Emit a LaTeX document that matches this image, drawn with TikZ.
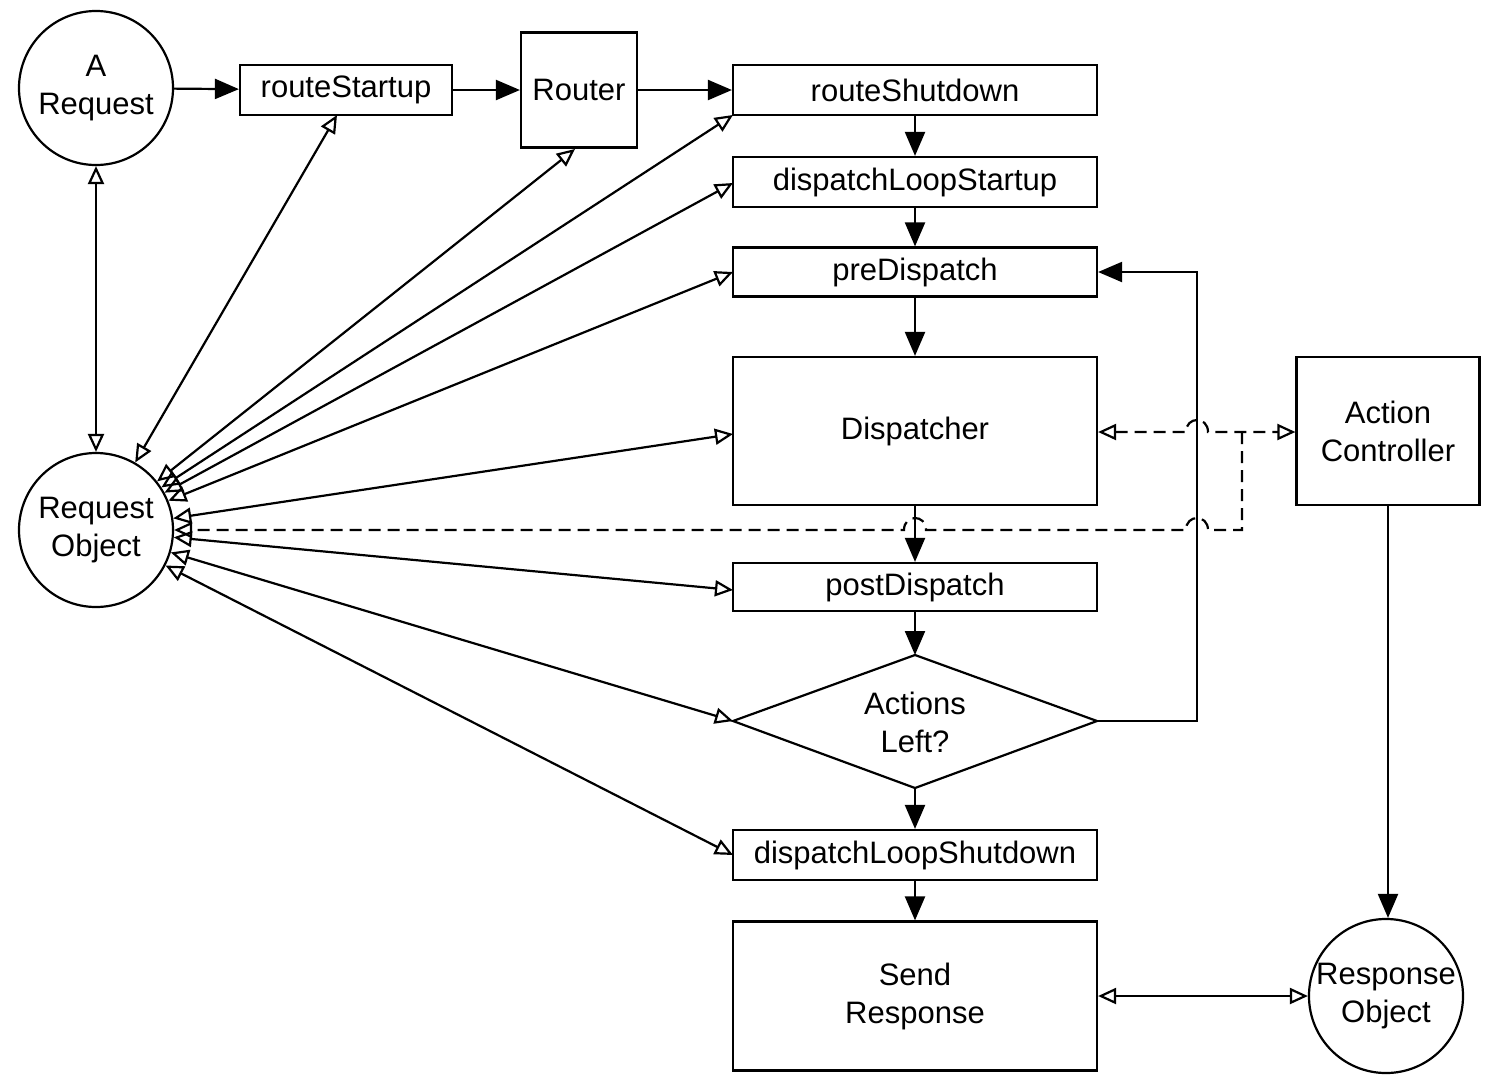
\documentclass[tikz,border=0pt]{standalone}
\usepackage{fontspec}
\setmainfont{Liberation Sans}
\usetikzlibrary{arrows.meta}
\begin{document}
\begin{tikzpicture}[x=1pt,y=-1pt,line width=2.2pt,
  every node/.style={font=\fontsize{31}{38}\selectfont},
  box/.style={draw,rectangle,inner sep=0pt,align=center},
  circ/.style={draw,circle,minimum size=154pt,inner sep=0pt,align=center},
  fa/.style={-{Triangle[length=24pt,width=20pt]}},
  oa/.style={{Triangle[open,length=18pt,width=16pt]}-{Triangle[open,length=18pt,width=16pt]}},
  oe/.style={-{Triangle[open,length=18pt,width=16pt]}},
  dsh/.style={dash pattern=on 12pt off 7pt}]
\fill[white] (0,0) rectangle (1494,1085);
\useasboundingbox (0,0) rectangle (1494,1085);
\node[circ] (areq) at (96,88) {A\\Request};
\node[circ] (ro) at (96,530) {Request\\Object};
\node[circ] (resp) at (1386,996) {Response\\Object};
\node[box,minimum width=212pt,minimum height=50pt] (rs) at (346,90) {routeStartup};
\node[box,minimum width=116pt,minimum height=115pt] (router) at (579,90) {Router};
\node[box,minimum width=364pt,minimum height=50pt] (rsh) at (915,90) {routeShutdown};
\node[box,minimum width=364pt,minimum height=50pt] (dls) at (915,182) {dispatchLoopStartup};
\node[box,minimum width=364pt,minimum height=49pt] (pre) at (915,272) {preDispatch};
\node[box,minimum width=364pt,minimum height=148pt] (disp) at (915,431) {Dispatcher};
\node[box,minimum width=364pt,minimum height=48pt] (post) at (915,587) {postDispatch};
\coordinate (dT) at (915,655); \coordinate (dB) at (915,788);
\coordinate (dL) at (733,721); \coordinate (dR) at (1097,721);
\draw (dT) -- (dR) -- (dB) -- (dL) -- cycle;
\node[align=center] (al) at (915,722) {Actions\\Left?};
\node[box,minimum width=364pt,minimum height=50pt] (dlsh) at (915,855) {dispatchLoopShutdown};
\node[box,minimum width=364pt,minimum height=149pt] (send) at (915,996) {Send\\Response};
\node[box,minimum width=183pt,minimum height=148pt] (ac) at (1388,431) {Action\\Controller};
% main flow
\draw[fa] (areq) -- (rs);
\draw[fa] (rs) -- (router);
\draw[fa] (router.east) -- (rsh.west);
\draw[fa] (rsh) -- (dls);
\draw[fa] (dls) -- (pre);
\draw[fa] (pre) -- (disp);
\draw[fa] (disp) -- (post);
\draw[fa] (post) -- (dT);
\draw[fa] (dB) -- (dlsh);
\draw[fa] (dlsh) -- (send);
\draw[fa] (ac.south) -- (resp.north -| ac.south);
\draw[oa] (send) -- (resp);
\draw[oa] (areq) -- (ro);
% loop back
\draw[fa] (dR) -- (1197,721) -- (1197,272) -- (pre.east);
% request object links
\coordinate (t1) at (337,115);
\coordinate (t2) at (575,149);
\coordinate (t3) at (733,115);
\coordinate (t4) at (733,183);
\coordinate (t5) at (733,272);
\coordinate (t6) at (733,434);
\coordinate (t7) at (733,590);
\coordinate (t8) at (733,721);
\coordinate (t9) at (733,855);
\foreach \t in {t1,t2,t3,t4,t5,t6,t7,t8,t9} \draw[oa] (ro) -- (\t);
% dashed
\coordinate (dj) at (1242,432);
\draw[oa,dsh] (disp.east |- dj) -- (1186,432) .. controls (1186,416) and (1208,416) .. (1208,432) -- (ac.west |- dj);
\draw[oe,dsh] (dj) -- (1242,530) -- (1208,530) .. controls (1208,514) and (1186,514) .. (1186,530)
  -- (926,530) .. controls (926,514) and (904,514) .. (904,530) -- (ro.east |- 0,530);
\end{tikzpicture}
\end{document}
